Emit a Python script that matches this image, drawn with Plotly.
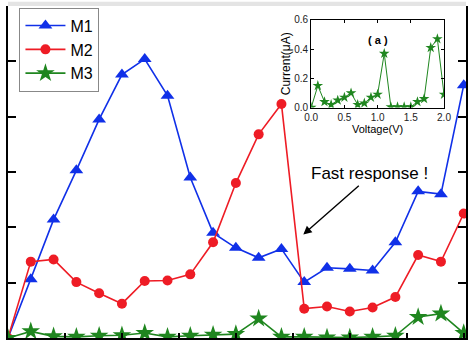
import plotly.graph_objects as go

# ---- data ----
voltage = [round(0.1 * i, 1) for i in range(21)]
m1 = [0.0, 1.06, 2.14, 3.03, 3.95, 4.76, 5.04, 4.38, 2.90, 1.90, 1.63, 1.45, 1.61,
      1.01, 1.27, 1.25, 1.22, 1.73, 2.65, 2.60, 4.57]
m2 = [0.0, 1.38, 1.42, 1.01, 0.81, 0.62, 1.03, 1.04, 1.15, 1.73, 2.80, 3.68, 4.23,
      0.53, 0.57, 0.48, 0.55, 0.74, 1.50, 1.38, 2.25]
m3 = [0.0, 0.12, 0.03, 0.02, 0.04, 0.05, 0.09, 0.02, 0.04, 0.06, 0.07, 0.35, 0.02,
      0.02, 0.01, 0.01, 0.02, 0.04, 0.38, 0.44, 0.09]
inset_current = [0.0, 0.15, 0.04, 0.02, 0.05, 0.07, 0.10, 0.02, 0.03, 0.07, 0.09, 0.37,
                 0.005, 0.005, 0.005, 0.005, 0.04, 0.06, 0.41, 0.47, 0.09]
main_xticks = [0, 0.25, 0.5, 0.75, 1.0, 1.25, 1.5, 1.75, 2.0]
main_yticks = [0, 1, 2, 3, 4, 5, 6]
inset_xticks = [0.0, 0.5, 1.0, 1.5, 2.0]
inset_yticks = [0.0, 0.2, 0.4, 0.6]

BLUE = "#1030e8"
RED = "#ee1c25"
GREEN = "#1f861f"
FONT = "Liberation Sans, Arial, sans-serif"

fig = go.Figure()
fig.add_trace(go.Scatter(x=voltage, y=m1, name="M1", mode="lines+markers",
                         line=dict(color=BLUE, width=1.6),
                         marker=dict(symbol="triangle-up", size=12, color=BLUE)))
fig.add_trace(go.Scatter(x=voltage, y=m2, name="M2", mode="lines+markers",
                         line=dict(color=RED, width=1.6),
                         marker=dict(symbol="circle", size=10, color=RED)))
fig.add_trace(go.Scatter(x=voltage, y=m3, name="M3", mode="lines+markers",
                         line=dict(color=GREEN, width=1.6),
                         marker=dict(symbol="star", size=14, color=GREEN)))
fig.add_trace(go.Scatter(x=voltage, y=inset_current, mode="lines+markers",
                         xaxis="x3", yaxis="y3", showlegend=False,
                         line=dict(color=GREEN, width=1),
                         marker=dict(symbol="star", size=8, color=GREEN)))

fig.update_layout(
    width=474, height=345,
    margin=dict(l=5, r=7, t=1, b=7),
    paper_bgcolor="white", plot_bgcolor="white",
    font=dict(family=FONT, color="black"),
    xaxis=dict(range=[0, 2.01], tickvals=main_xticks, showticklabels=False,
               ticks="inside", ticklen=5, tickwidth=2, tickcolor="black",
               showline=True, linecolor="black", linewidth=2, mirror=False,
               showgrid=False, zeroline=False),
    xaxis2=dict(range=[0, 2.01], overlaying="x", side="top", anchor="y",
                tickvals=main_xticks, showticklabels=False,
                ticks="inside", ticklen=7, tickwidth=2, tickcolor="black",
                showline=False, showgrid=False, zeroline=False),
    yaxis=dict(range=[0, 6], tickvals=main_yticks, showticklabels=False,
               ticks="inside", ticklen=8, tickwidth=2, tickcolor="black",
               showline=True, linecolor="black", linewidth=2, mirror="ticks",
               showgrid=False, zeroline=False),
    xaxis3=dict(domain=[0.662, 0.952], anchor="y3", range=[0, 2.0],
                tickvals=inset_xticks, tickformat=".1f",
                ticks="inside", ticklen=3, tickcolor="black",
                showline=True, linecolor="black", linewidth=1, mirror="ticks",
                showgrid=False, zeroline=False,
                tickfont=dict(size=10, family=FONT, color="#222"),
                title=dict(text="Voltage(V)", font=dict(size=11, family=FONT), standoff=0)),
    yaxis3=dict(domain=[0.694, 0.958], anchor="x3", range=[0, 0.6],
                tickvals=inset_yticks, tickformat=".1f",
                ticks="inside", ticklen=3, tickcolor="black",
                showline=True, linecolor="black", linewidth=1, mirror="ticks",
                showgrid=False, zeroline=False,
                tickfont=dict(size=10, family=FONT, color="#222"),
                title=dict(text="Current(μA)", font=dict(size=12, family=FONT), standoff=1)),
    legend=dict(x=0.025, y=0.995, xanchor="left", yanchor="top",
                bordercolor="#888", borderwidth=1, bgcolor="rgba(255,255,255,0)",
                font=dict(size=16, family=FONT), tracegroupgap=0,
                itemwidth=40),
    shapes=[dict(type="rect", xref="paper", yref="paper", x0=0, x1=1,
                 y0=1.0, y1=1.013, fillcolor="#e4e4e4", line=dict(width=0),
                 layer="below")],
    annotations=[
        dict(text="Fast response !", x=1.585, y=2.98, xref="x", yref="y",
             showarrow=False, font=dict(size=17, family=FONT)),
        dict(text="", x=1.296, y=1.87, xref="x", yref="y", ax=57, ay=-50,
             showarrow=True, arrowhead=2, arrowsize=1.2, arrowwidth=1.4,
             arrowcolor="black"),
        dict(text="<b>( a )</b>", x=0.5, y=0.86, xref="x3 domain", yref="y3 domain",
             showarrow=False, font=dict(size=11, family=FONT)),
    ],
)

fig.write_html("out.html")
